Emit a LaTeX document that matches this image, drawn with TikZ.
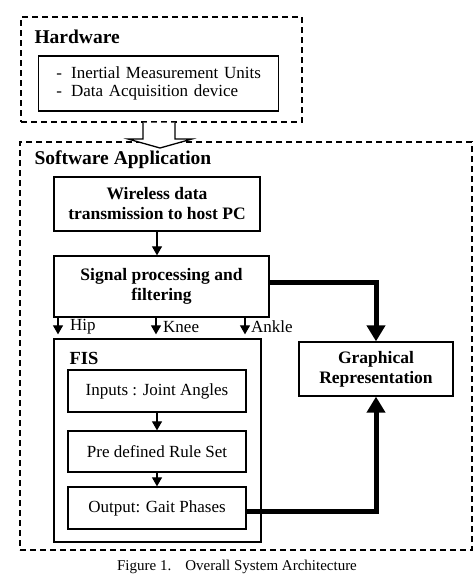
\documentclass[tikz,border=0pt]{standalone}
\usepackage{fontspec}
\setmainfont{Liberation Serif}
\usetikzlibrary{arrows.meta}
\begin{document}
\begin{tikzpicture}[x=1pt,y=-1pt,
every node/.style={font=\fontsize{17}{18}\selectfont},
group/.style={draw,dashed,dash pattern=on 6pt off 4pt,line width=1.4pt,inner sep=0pt},
block/.style={draw,line width=1.3pt,align=center,inner sep=0pt},
heavy/.style={block,font=\fontsize{17.5}{20}\selectfont\bfseries},
title/.style={anchor=west,font=\fontsize{19.5}{21}\selectfont\bfseries},
tag/.style={anchor=west,inner sep=1pt},
flow/.style={line width=1.2pt,-{Triangle[width=10pt,length=9pt]}},
fat/.style={line width=5pt,-{Triangle[width=18pt,length=16pt]}}]
\useasboundingbox (0,0) rectangle (474,576);
% hardware part
\node[group,minimum width=281,minimum height=105] (hw) at (161.5,69.5) {};
\node[title] (hwt) at (31,37) {Hardware};
\node[block,text width=222,inner xsep=9pt,minimum height=55,align=left] (imu) at (158.5,83.5)
  {\hspace*{9pt}-\hspace{9pt}Inertial Measurement Units\\\hspace*{9pt}-\hspace{9pt}Data Acquisition device};
% software part
\node[group,minimum width=452,minimum height=408] (sw) at (246,346) {};
\node[title] (swt) at (31,160) {Software Application};
\node[heavy,minimum width=206,minimum height=54] (wl) at (157,204) {Wireless data\\transmission to host PC};
\node[heavy,minimum width=215,minimum height=61] (sig) at (161.5,286.5) {Signal processing and\\filtering};
\node[block,minimum width=207,minimum height=203] (fis) at (157.5,440.5) {};
\node[title,font=\fontsize{18.5}{20}\selectfont\bfseries] (fist) at (66,358) {FIS};
\node[block,minimum width=178,minimum height=42] (inp) at (157,391) {Inputs : Joint Angles};
\node[block,minimum width=178,minimum height=41] (rule) at (157,451.5) {Pre defined Rule Set};
\node[block,minimum width=178,minimum height=42] (out) at (157,508) {Output: Gait Phases};
\node[heavy,minimum width=154,minimum height=54] (gr) at (376,369) {Graphical\\Representation};
% block arrow between the two parts
\draw[line width=1.3pt,fill=white] (hw.south -| 143,0) -- (143,139) -- (128,139) -- (160,148)
  -- (192,139) -- (175,139) -- (hw.south -| 175,0);
% connectors
\draw[flow] (wl) -- (sig.north -| wl);
\draw[flow,shorten >=4pt] (sig.south -| 58,0) -- (fis.north -| 58,0);
\draw[flow,shorten >=4pt] (sig.south -| 156,0) -- (fis.north -| 156,0);
\draw[flow,shorten >=4pt] (sig.south -| 245,0) -- (fis.north -| 245,0);
\node[tag] (hip) at (69,327) {Hip};
\node[tag] (knee) at (162,327) {Knee};
\node[tag] (ankle) at (250,327) {Ankle};
\draw[flow] (inp) -- (rule);
\draw[flow] (rule) -- (out);
\draw[fat] (sig.east |- 0,282) -| (gr.north);
\draw[fat] (out.east |- 0,511) -| (gr.south);
% caption
\node[font=\fontsize{15}{16}\selectfont] (cap) at (237,567) {Figure 1.\hspace{14pt}Overall System Architecture};
\end{tikzpicture}
\end{document}
